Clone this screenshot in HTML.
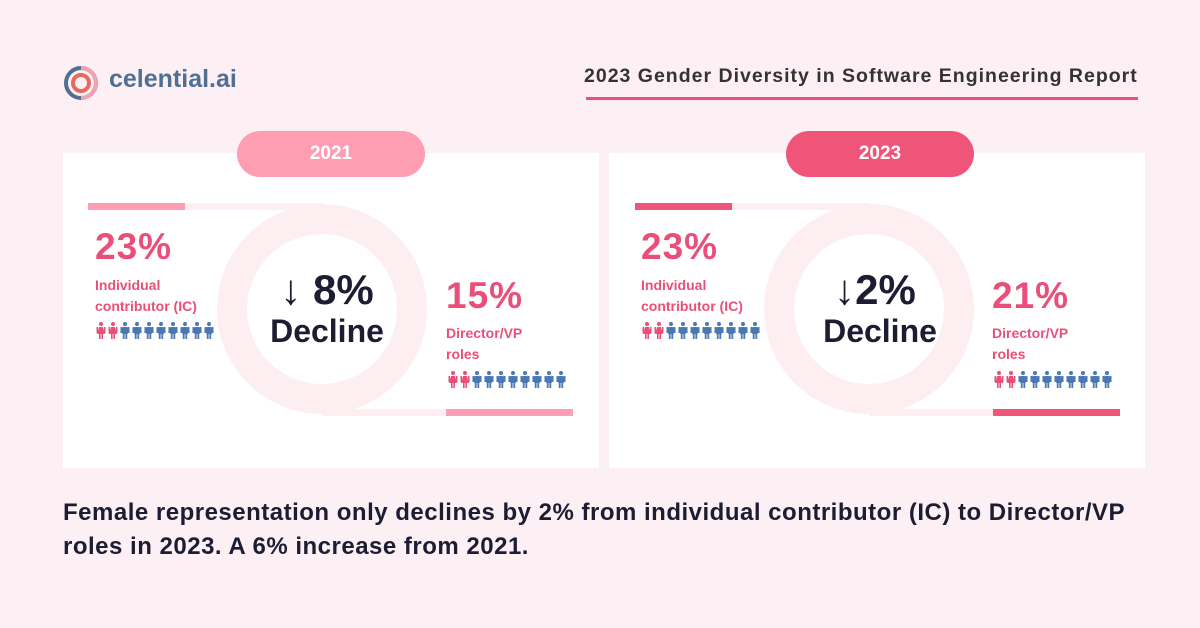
<!DOCTYPE html>
<html><head><meta charset="utf-8"><style>
body{margin:0;width:1200px;height:628px;background:#fdf0f4;font-family:"Liberation Sans",sans-serif;position:relative;overflow:hidden}
.a{position:absolute}
.panel{position:absolute;top:153px;width:536px;height:315px;background:#fff}
.pill{position:absolute;top:131px;width:188px;height:46px;border-radius:23px;color:#fff;font-weight:bold;font-size:19px;text-align:center;line-height:46px}
.pct{position:absolute;color:#ea4f7a;font-weight:bold;font-size:37px;letter-spacing:1px}
.lbl{position:absolute;color:#ea4f7a;font-weight:bold;font-size:14px;line-height:21px}
.big{position:absolute;color:#1c1c33;font-weight:bold;text-align:center}
</style></head><body>
<svg class="a" style="left:62px;top:64px" width="38" height="38" viewBox="0 0 38 38">
<circle cx="19" cy="19" r="15" fill="none" stroke="#4f6f93" stroke-width="4"/>
<path d="M19 4 A15 15 0 0 1 19 34" fill="none" stroke="#f2a0b4" stroke-width="4"/>
<circle cx="19" cy="19" r="8" fill="none" stroke="#e8675f" stroke-width="4"/></svg>
<div class="a" style="left:109px;top:65px;font-size:25px;color:#4f6f93;font-weight:bold">celential.ai</div>
<div class="a" style="left:584px;top:65px;font-size:19.5px;color:#333;font-weight:bold;letter-spacing:1px;white-space:nowrap">2023 Gender Diversity in Software Engineering Report</div>
<div class="a" style="left:586px;top:97px;width:552px;height:3px;background:#ea4f7a"></div>

<div class="panel" style="left:63px"></div>
<div class="panel" style="left:609px"></div>
<div class="pill" style="left:237px;background:#ff9db3">2021</div>
<div class="pill" style="left:786px;background:#ef5479">2023</div>

<svg class="a" style="left:0;top:0" width="1200" height="628">
<g>
<rect x="88" y="203" width="235" height="7" fill="#fdeef2"/>
<rect x="88" y="203" width="97" height="7" fill="#ff9db3"/>
<rect x="323" y="409" width="250" height="7" fill="#fdeef2"/>
<rect x="446" y="409" width="127" height="7" fill="#ff9db3"/>
<circle cx="322" cy="309" r="90" fill="none" stroke="#fdeef2" stroke-width="30"/>
</g>
<g transform="translate(547,0)">
<rect x="88" y="203" width="235" height="7" fill="#fdeef2"/>
<rect x="88" y="203" width="97" height="7" fill="#ef5479"/>
<rect x="323" y="409" width="250" height="7" fill="#fdeef2"/>
<rect x="446" y="409" width="127" height="7" fill="#ef5479"/>
<circle cx="322" cy="309" r="90" fill="none" stroke="#fdeef2" stroke-width="30"/>
</g>
<defs>
<g id="p"><circle cx="5" cy="2" r="2"/><rect x="2" y="5" width="6" height="7" rx="1"/><rect x="0.5" y="5" width="1.5" height="6"/><rect x="8" y="5" width="1.5" height="6"/><rect x="2.8" y="12" width="1.8" height="5"/><rect x="5.4" y="12" width="1.8" height="5"/></g>
<g id="f"><circle cx="5" cy="2" r="2"/><path d="M3 5h4l2 7H1z"/><rect x="0.5" y="5" width="1.5" height="6"/><rect x="8" y="5" width="1.5" height="6"/><rect x="3" y="12" width="1.6" height="5"/><rect x="5.4" y="12" width="1.6" height="5"/></g>
</defs>
<g transform="translate(96,322)"><use href="#f" fill="#ea4f7a"/><use href="#f" x="12" fill="#ea4f7a"/><g fill="#4a78b4"><use href="#p" x="24"/><use href="#p" x="36"/><use href="#p" x="48"/><use href="#p" x="60"/><use href="#p" x="72"/><use href="#p" x="84"/><use href="#p" x="96"/><use href="#p" x="108"/></g></g>
<g transform="translate(448,371)"><use href="#f" fill="#ea4f7a"/><use href="#f" x="12" fill="#ea4f7a"/><g fill="#4a78b4"><use href="#p" x="24"/><use href="#p" x="36"/><use href="#p" x="48"/><use href="#p" x="60"/><use href="#p" x="72"/><use href="#p" x="84"/><use href="#p" x="96"/><use href="#p" x="108"/></g></g>
<g transform="translate(642,322)"><use href="#f" fill="#ea4f7a"/><use href="#f" x="12" fill="#ea4f7a"/><g fill="#4a78b4"><use href="#p" x="24"/><use href="#p" x="36"/><use href="#p" x="48"/><use href="#p" x="60"/><use href="#p" x="72"/><use href="#p" x="84"/><use href="#p" x="96"/><use href="#p" x="108"/></g></g>
<g transform="translate(994,371)"><use href="#f" fill="#ea4f7a"/><use href="#f" x="12" fill="#ea4f7a"/><g fill="#4a78b4"><use href="#p" x="24"/><use href="#p" x="36"/><use href="#p" x="48"/><use href="#p" x="60"/><use href="#p" x="72"/><use href="#p" x="84"/><use href="#p" x="96"/><use href="#p" x="108"/></g></g>
</svg>

<div class="pct" style="left:95px;top:226px">23%</div>
<div class="lbl" style="left:95px;top:275px">Individual<br>contributor (IC)</div>
<div class="pct" style="left:446px;top:275px">15%</div>
<div class="lbl" style="left:446px;top:323px">Director/VP<br>roles</div>
<div class="big" style="left:262px;top:266px;width:130px;font-size:42px">↓ 8%</div>
<div class="big" style="left:262px;top:313px;width:130px;font-size:32px">Decline</div>

<div class="pct" style="left:641px;top:226px">23%</div>
<div class="lbl" style="left:641px;top:275px">Individual<br>contributor (IC)</div>
<div class="pct" style="left:992px;top:275px">21%</div>
<div class="lbl" style="left:992px;top:323px">Director/VP<br>roles</div>
<div class="big" style="left:810px;top:266px;width:130px;font-size:42px">↓2%</div>
<div class="big" style="left:810px;top:313px;width:140px;font-size:32px">Decline</div>

<div class="a" style="left:63px;top:496px;font-size:24px;font-weight:bold;color:#1c1c33;line-height:34px;width:1100px;letter-spacing:0.5px">Female representation only declines by 2% from individual contributor (IC) to Director/VP roles in 2023. A 6% increase from 2021.</div>
</body></html>
